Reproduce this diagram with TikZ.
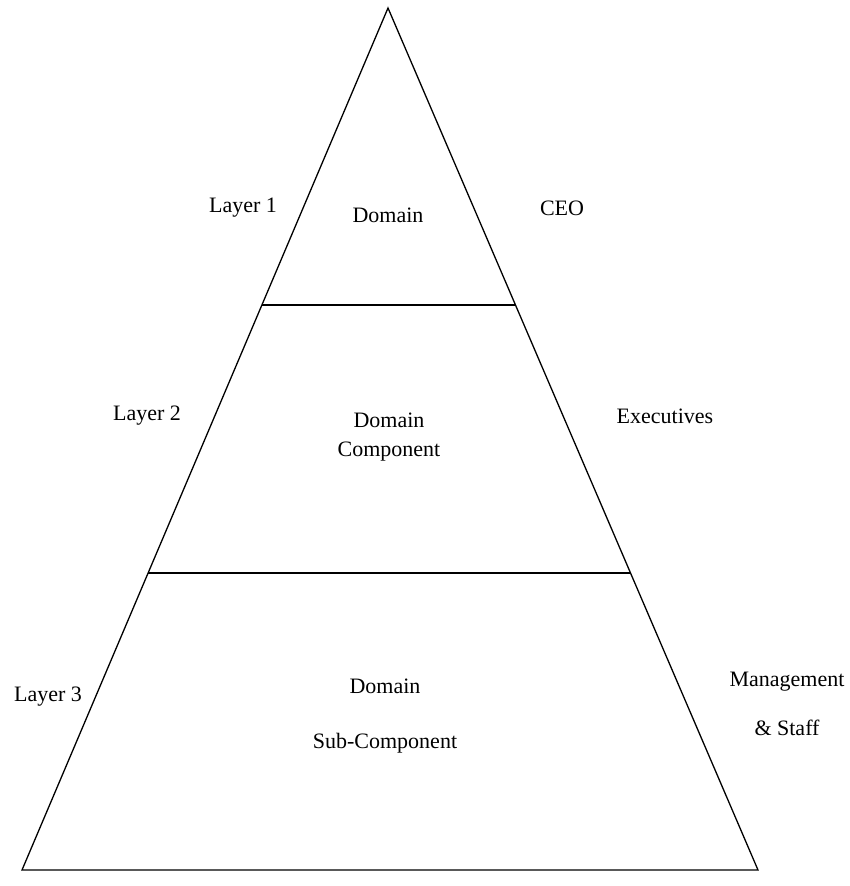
\documentclass[tikz,border=0pt]{standalone}
\usepackage{fontspec}
\setmainfont{Liberation Serif}
\begin{document}
\begin{tikzpicture}[x=1pt,y=-1pt,line width=1.3pt,
  lbl/.style={font=\fontsize{22}{29}\selectfont,align=center,inner sep=0pt}]
\useasboundingbox (0,0) rectangle (849,886);
\coordinate (apex) at (388,8);
\coordinate (bl) at (22,870);
\coordinate (br) at (758,870);
\draw (apex) -- (bl) -- (br) -- cycle;
\coordinate (l1a) at (262,305); \coordinate (l1b) at (516,305);
\coordinate (l2a) at (148,573); \coordinate (l2b) at (630,573);
\draw (l1a) -- (l1b);
\draw (l2a) -- (l2b);
\node[lbl] (t1) at (243,208) {Layer 1};
\node[lbl] (d1) at (388,215) {Domain};
\node[lbl] (c1) at (562,208) {CEO};
\node[lbl] (t2) at (147,416) {Layer 2};
\node[lbl] (d2) at (389,437) {Domain\\Component};
\node[lbl] (c2) at (665,416) {Executives};
\node[lbl] (t3) at (48,697) {Layer 3};
\node[lbl] (d3a) at (385,686) {Domain};
\node[lbl] (d3b) at (385,743) {Sub-Component};
\node[lbl,align=center] (c3) at (787,704) {Management\\[0.9em]\& Staff};
\end{tikzpicture}
\end{document}
